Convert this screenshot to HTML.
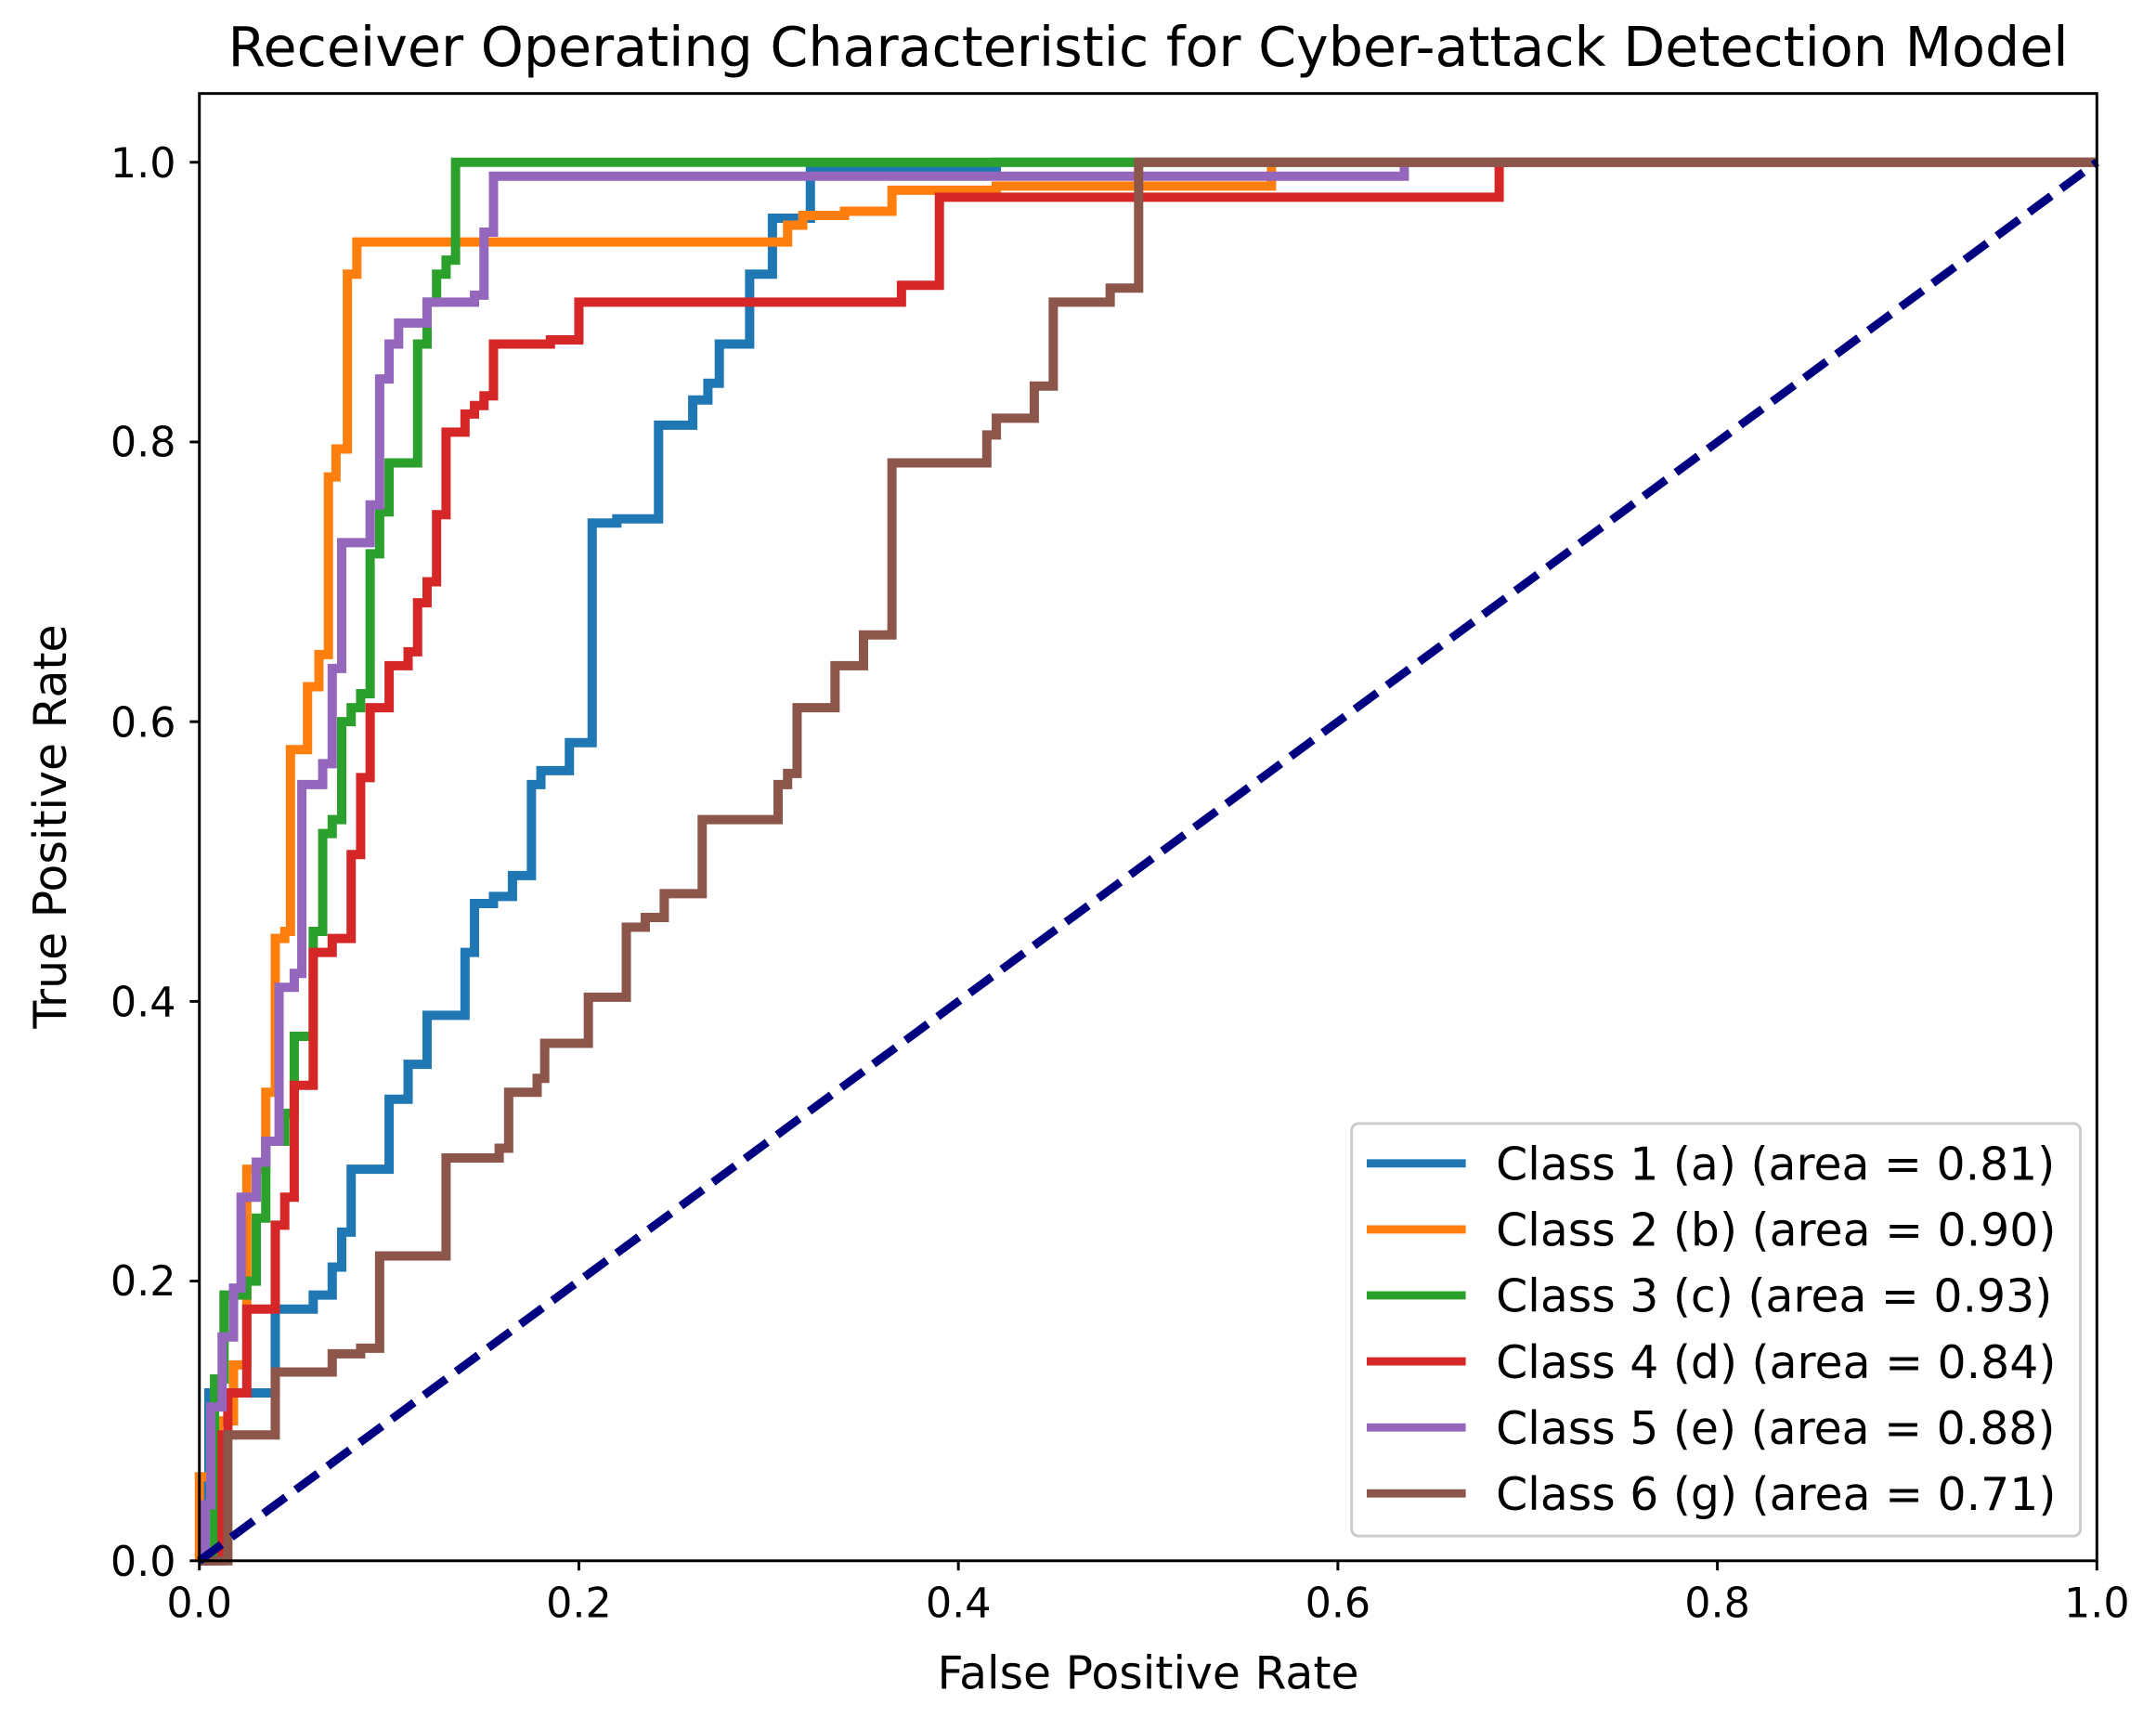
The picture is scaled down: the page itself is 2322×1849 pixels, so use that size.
<!DOCTYPE html>
<html><head><style>html,body{margin:0;padding:0;background:#fff}svg{display:block}</style></head>
<body>
<svg width="2322" height="1849" viewBox="0 0 1568 1248.6" preserveAspectRatio="none" xmlns="http://www.w3.org/2000/svg" font-family="'DejaVu Sans','Liberation Sans',sans-serif">
<rect width="1568" height="1248.6" fill="#fff"/>
<g transform="translate(145,1135) scale(1380,-1017)" fill="none" stroke-width="10" stroke-linejoin="miter">
<polyline vector-effect="non-scaling-stroke" stroke="#1f77b4" points="0,0 0.003,0 0.003,0.06 0.005,0.06 0.005,0.12 0.04,0.12 0.04,0.18 0.06,0.18 0.06,0.19 0.07,0.19 0.07,0.21 0.075,0.21 0.075,0.235 0.08,0.235 0.08,0.28 0.1,0.28 0.1,0.33 0.11,0.33 0.11,0.355 0.12,0.355 0.12,0.39 0.14,0.39 0.14,0.435 0.145,0.435 0.145,0.47 0.155,0.47 0.155,0.475 0.165,0.475 0.165,0.49 0.175,0.49 0.175,0.555 0.18,0.555 0.18,0.565 0.195,0.565 0.195,0.585 0.207,0.585 0.207,0.742 0.22,0.742 0.22,0.745 0.242,0.745 0.242,0.812 0.26,0.812 0.26,0.83 0.268,0.83 0.268,0.842 0.274,0.842 0.274,0.87 0.29,0.87 0.29,0.92 0.302,0.92 0.302,0.96 0.322,0.96 0.322,0.995 0.42,0.995 0.42,1 1,1"/>
<polyline vector-effect="non-scaling-stroke" stroke="#ff7f0e" points="0,0 0,0.06 0.01,0.06 0.01,0.1 0.018,0.1 0.018,0.14 0.025,0.14 0.025,0.28 0.035,0.28 0.035,0.335 0.04,0.335 0.04,0.445 0.045,0.445 0.045,0.45 0.048,0.45 0.048,0.58 0.057,0.58 0.057,0.625 0.063,0.625 0.063,0.648 0.068,0.648 0.068,0.775 0.072,0.775 0.072,0.795 0.078,0.795 0.078,0.92 0.083,0.92 0.083,0.943 0.31,0.943 0.31,0.955 0.318,0.955 0.318,0.962 0.34,0.962 0.34,0.965 0.365,0.965 0.365,0.98 0.42,0.98 0.42,0.983 0.565,0.983 0.565,1 1,1"/>
<polyline vector-effect="non-scaling-stroke" stroke="#2ca02c" points="0,0 0.008,0 0.008,0.13 0.013,0.13 0.013,0.19 0.025,0.19 0.025,0.2 0.03,0.2 0.03,0.245 0.035,0.245 0.035,0.3 0.045,0.3 0.045,0.32 0.05,0.32 0.05,0.375 0.06,0.375 0.06,0.45 0.065,0.45 0.065,0.52 0.07,0.52 0.07,0.53 0.075,0.53 0.075,0.6 0.08,0.6 0.08,0.61 0.085,0.61 0.085,0.62 0.09,0.62 0.09,0.72 0.095,0.72 0.095,0.75 0.1,0.75 0.1,0.785 0.115,0.785 0.115,0.87 0.12,0.87 0.12,0.9 0.125,0.9 0.125,0.92 0.13,0.92 0.13,0.93 0.135,0.93 0.135,1 1,1"/>
<polyline vector-effect="non-scaling-stroke" stroke="#d62728" points="0,0 0.012,0 0.012,0.09 0.015,0.09 0.015,0.12 0.025,0.12 0.025,0.18 0.04,0.18 0.04,0.24 0.045,0.24 0.045,0.26 0.05,0.26 0.05,0.34 0.06,0.34 0.06,0.435 0.07,0.435 0.07,0.445 0.08,0.445 0.08,0.505 0.085,0.505 0.085,0.56 0.09,0.56 0.09,0.61 0.1,0.61 0.1,0.64 0.11,0.64 0.11,0.65 0.115,0.65 0.115,0.685 0.12,0.685 0.12,0.7 0.125,0.7 0.125,0.748 0.13,0.748 0.13,0.807 0.14,0.807 0.14,0.82 0.145,0.82 0.145,0.826 0.15,0.826 0.15,0.833 0.155,0.833 0.155,0.87 0.185,0.87 0.185,0.873 0.2,0.873 0.2,0.9 0.37,0.9 0.37,0.912 0.39,0.912 0.39,0.975 0.685,0.975 0.685,1 1,1"/>
<polyline vector-effect="non-scaling-stroke" stroke="#9467bd" points="0,0 0.003,0 0.003,0.04 0.006,0.04 0.006,0.11 0.012,0.11 0.012,0.16 0.018,0.16 0.018,0.195 0.022,0.195 0.022,0.26 0.03,0.26 0.03,0.285 0.035,0.285 0.035,0.3 0.042,0.3 0.042,0.41 0.05,0.41 0.05,0.42 0.054,0.42 0.054,0.555 0.065,0.555 0.065,0.57 0.07,0.57 0.07,0.638 0.075,0.638 0.075,0.728 0.09,0.728 0.09,0.755 0.095,0.755 0.095,0.845 0.1,0.845 0.1,0.87 0.105,0.87 0.105,0.885 0.12,0.885 0.12,0.9 0.145,0.9 0.145,0.905 0.15,0.905 0.15,0.95 0.155,0.95 0.155,0.99 0.635,0.99 0.635,1 1,1"/>
<polyline vector-effect="non-scaling-stroke" stroke="#8c564b" points="0,0 0.015,0 0.015,0.09 0.04,0.09 0.04,0.135 0.07,0.135 0.07,0.148 0.085,0.148 0.085,0.152 0.095,0.152 0.095,0.218 0.13,0.218 0.13,0.288 0.158,0.288 0.158,0.295 0.163,0.295 0.163,0.335 0.178,0.335 0.178,0.345 0.182,0.345 0.182,0.37 0.205,0.37 0.205,0.403 0.225,0.403 0.225,0.453 0.235,0.453 0.235,0.46 0.245,0.46 0.245,0.477 0.265,0.477 0.265,0.53 0.305,0.53 0.305,0.555 0.31,0.555 0.31,0.563 0.315,0.563 0.315,0.61 0.335,0.61 0.335,0.64 0.35,0.64 0.35,0.662 0.365,0.662 0.365,0.785 0.415,0.785 0.415,0.805 0.42,0.805 0.42,0.817 0.44,0.817 0.44,0.84 0.45,0.84 0.45,0.9 0.48,0.9 0.48,0.91 0.495,0.91 0.495,1 1,1"/>
</g>
<line x1="145" y1="1135" x2="1525" y2="118" stroke="#000080" stroke-width="6" stroke-dasharray="20,9"/>
<rect x="145" y="68" width="1380" height="1067" fill="none" stroke="#000" stroke-width="2"/>
<g stroke="#000" stroke-width="2">
<line x1="145" y1="1135" x2="145" y2="1142"/><line x1="421" y1="1135" x2="421" y2="1142"/><line x1="697" y1="1135" x2="697" y2="1142"/><line x1="973" y1="1135" x2="973" y2="1142"/><line x1="1249" y1="1135" x2="1249" y2="1142"/><line x1="1525" y1="1135" x2="1525" y2="1142"/>
<line x1="138" y1="1135" x2="145" y2="1135"/><line x1="138" y1="931.6" x2="145" y2="931.6"/><line x1="138" y1="728.2" x2="145" y2="728.2"/><line x1="138" y1="524.8" x2="145" y2="524.8"/><line x1="138" y1="321.4" x2="145" y2="321.4"/><line x1="138" y1="118" x2="145" y2="118"/>
</g>
<g font-size="30" fill="#000" text-anchor="middle">
<text x="145" y="1176">0.0</text><text x="421" y="1176">0.2</text><text x="697" y="1176">0.4</text><text x="973" y="1176">0.6</text><text x="1249" y="1176">0.8</text><text x="1525" y="1176">1.0</text>
</g>
<g font-size="30" fill="#000" text-anchor="end">
<text x="128" y="1146">0.0</text><text x="128" y="942">0.2</text><text x="128" y="739">0.4</text><text x="128" y="536">0.6</text><text x="128" y="332">0.8</text><text x="128" y="129">1.0</text>
</g>
<text x="835" y="1228" font-size="33" text-anchor="middle">False Positive Rate</text>
<text transform="translate(48,601) rotate(-90)" font-size="33" text-anchor="middle">True Positive Rate</text>
<text x="835" y="48" font-size="39.6" text-anchor="middle">Receiver Operating Characteristic for Cyber-attack Detection Model</text>
<rect x="983" y="817" width="530" height="300" rx="5" fill="#fff" fill-opacity="0.8" stroke="#ccc" stroke-width="2"/>
<g stroke-width="6">
<line x1="994" y1="846" x2="1066" y2="846" stroke="#1f77b4"/>
<line x1="994" y1="894" x2="1066" y2="894" stroke="#ff7f0e"/>
<line x1="994" y1="942" x2="1066" y2="942" stroke="#2ca02c"/>
<line x1="994" y1="990" x2="1066" y2="990" stroke="#d62728"/>
<line x1="994" y1="1038" x2="1066" y2="1038" stroke="#9467bd"/>
<line x1="994" y1="1086" x2="1066" y2="1086" stroke="#8c564b"/>
</g>
<g font-size="33" fill="#000">
<text x="1088" y="858">Class 1 (a) (area = 0.81)</text>
<text x="1088" y="906">Class 2 (b) (area = 0.90)</text>
<text x="1088" y="954">Class 3 (c) (area = 0.93)</text>
<text x="1088" y="1002">Class 4 (d) (area = 0.84)</text>
<text x="1088" y="1050">Class 5 (e) (area = 0.88)</text>
<text x="1088" y="1098">Class 6 (g) (area = 0.71)</text>
</g>
</svg>
</body></html>
